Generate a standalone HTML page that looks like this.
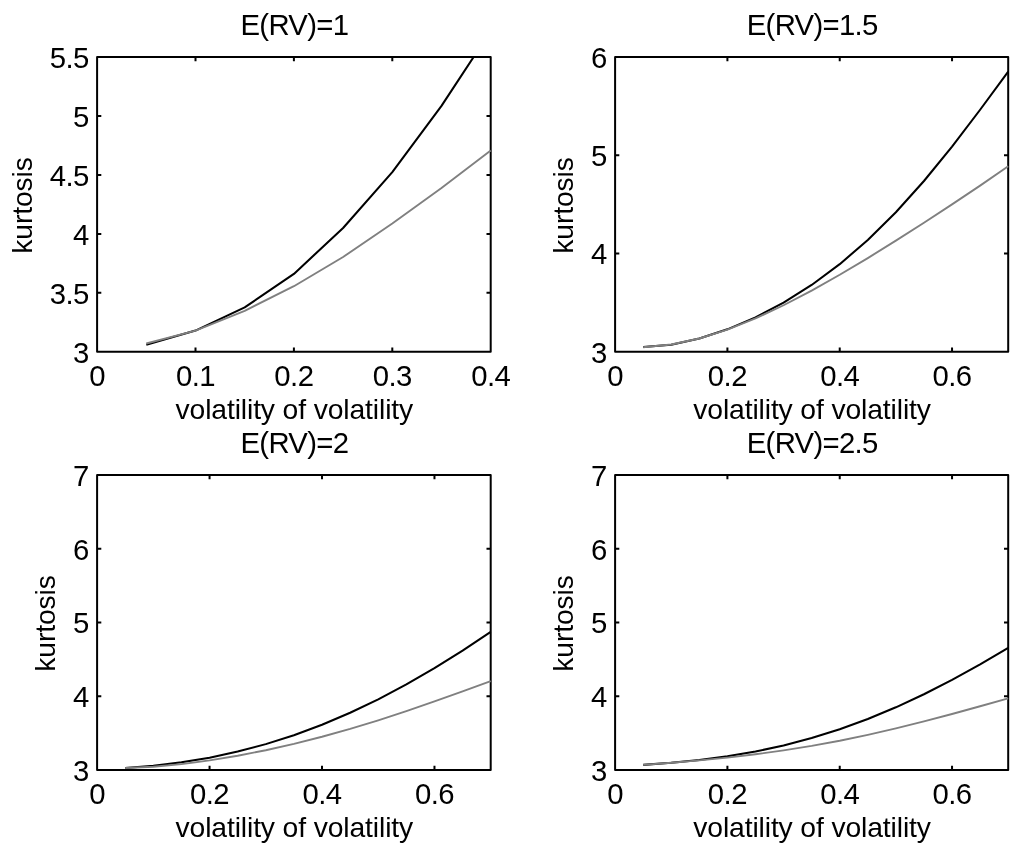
<!DOCTYPE html>
<html lang="en">
<head>
<meta charset="utf-8">
<title>Kurtosis vs volatility of volatility</title>
<style>
html,body{margin:0;padding:0;background:#fff;}
body{width:1024px;height:859px;overflow:hidden;}
svg{display:block;}
text{font-family:"Liberation Sans",Arial,Helvetica,sans-serif;font-size:28px;fill:#000;}
.t{font-size:29.3px;letter-spacing:-0.55px;}
.tt{font-size:29.3px;letter-spacing:-0.7px;}
.l{font-size:28.3px;letter-spacing:-0.13px;}
.ax{fill:none;stroke:#000;stroke-width:2.0;stroke-linejoin:round;}
.tk{stroke:#000;stroke-width:2.0;fill:none;}
.kb{fill:none;stroke:#000;stroke-width:2.05;stroke-linejoin:round;}
.kg{fill:none;stroke:#808080;stroke-width:1.9;stroke-linejoin:round;}
</style>
</head>
<body>
<svg width="1024" height="859" viewBox="0 0 1024 859">
<rect x="0" y="0" width="1024" height="859" fill="#ffffff"/>
<defs>
<clipPath id="clip0"><rect x="97.1" y="57.1" width="394.6" height="294.7"/></clipPath>
<clipPath id="clip1"><rect x="615.1" y="57.1" width="394.1" height="294.7"/></clipPath>
<clipPath id="clip2"><rect x="97.1" y="475.1" width="394.6" height="294.8"/></clipPath>
<clipPath id="clip3"><rect x="615.1" y="475.1" width="394.1" height="294.8"/></clipPath>
</defs>
<g id="plot1">
<rect class="ax" x="97.1" y="57.1" width="393.6" height="294.7"/>
<path class="tk" d="M195.5 351.8V347.6M195.5 57.1V61.3M293.9 351.8V347.6M293.9 57.1V61.3M392.3 351.8V347.6M392.3 57.1V61.3M97.1 292.86H101.3M490.7 292.86H486.5M97.1 233.92H101.3M490.7 233.92H486.5M97.1 174.98H101.3M490.7 174.98H486.5M97.1 116.04H101.3M490.7 116.04H486.5"/>
<polyline class="kb" clip-path="url(#clip0)" points="146.3,344.7 195.5,330.6 244.7,307.4 293.9,273.9 343.1,228 392.3,172.1 441.5,105.9 490.7,31"/>
<polyline class="kg" clip-path="url(#clip0)" points="146.3,343.5 195.5,330.6 244.7,310.8 293.9,286.2 343.1,257 392.3,223.5 441.5,188 490.7,150.5"/>
<text class="t" x="97.1" y="386" text-anchor="middle">0</text>
<text class="t" x="195.5" y="386" text-anchor="middle">0.1</text>
<text class="t" x="293.9" y="386" text-anchor="middle">0.2</text>
<text class="t" x="392.3" y="386" text-anchor="middle">0.3</text>
<text class="t" x="490.7" y="386" text-anchor="middle">0.4</text>
<text class="t" x="88.8" y="363" text-anchor="end">3</text>
<text class="t" x="88.8" y="304" text-anchor="end">3.5</text>
<text class="t" x="88.8" y="245" text-anchor="end">4</text>
<text class="t" x="88.8" y="186" text-anchor="end">4.5</text>
<text class="t" x="88.8" y="127" text-anchor="end">5</text>
<text class="t" x="88.8" y="68" text-anchor="end">5.5</text>
<text class="tt" x="294.4" y="35.1" text-anchor="middle">E(RV)=1</text>
<text class="l" x="294.3" y="418.9" text-anchor="middle">volatility of volatility</text>
<text class="l" transform="translate(32 205.45) rotate(-90)" text-anchor="middle">kurtosis</text>
</g>
<g id="plot2">
<rect class="ax" x="615.1" y="57.1" width="393.1" height="294.7"/>
<path class="tk" d="M727.41 351.8V347.6M727.41 57.1V61.3M839.73 351.8V347.6M839.73 57.1V61.3M952.04 351.8V347.6M952.04 57.1V61.3M615.1 253.57H619.3M1008.2 253.57H1004M615.1 155.33H619.3M1008.2 155.33H1004"/>
<polyline class="kb" clip-path="url(#clip1)" points="643.18,347.1 671.26,344.68 699.34,338.54 727.41,329.34 755.49,317.36 783.57,302.63 811.65,284.99 839.73,264.18 867.81,239.98 895.89,212.24 923.96,181 952.04,146.61 980.12,109.75 1008.2,71.61"/>
<polyline class="kg" clip-path="url(#clip1)" points="643.18,347.18 671.26,344.5 699.34,338.47 727.41,329.59 755.49,318.37 783.57,305.25 811.65,290.6 839.73,274.78 867.81,258.06 895.89,240.66 923.96,222.74 952.04,204.37 980.12,185.59 1008.2,166.34"/>
<text class="t" x="615.1" y="386" text-anchor="middle">0</text>
<text class="t" x="727.41" y="386" text-anchor="middle">0.2</text>
<text class="t" x="839.73" y="386" text-anchor="middle">0.4</text>
<text class="t" x="952.04" y="386" text-anchor="middle">0.6</text>
<text class="t" x="606.8" y="363" text-anchor="end">3</text>
<text class="t" x="606.8" y="264" text-anchor="end">4</text>
<text class="t" x="606.8" y="166" text-anchor="end">5</text>
<text class="t" x="606.8" y="68" text-anchor="end">6</text>
<text class="tt" x="812.15" y="35.1" text-anchor="middle">E(RV)=1.5</text>
<text class="l" x="812.05" y="418.9" text-anchor="middle">volatility of volatility</text>
<text class="l" transform="translate(573 205.45) rotate(-90)" text-anchor="middle">kurtosis</text>
</g>
<g id="plot3">
<rect class="ax" x="97.1" y="475.1" width="393.6" height="294.8"/>
<path class="tk" d="M209.56 769.9V765.7M209.56 475.1V479.3M322.01 769.9V765.7M322.01 475.1V479.3M434.47 769.9V765.7M434.47 475.1V479.3M97.1 696.2H101.3M490.7 696.2H486.5M97.1 622.5H101.3M490.7 622.5H486.5M97.1 548.8H101.3M490.7 548.8H486.5"/>
<polyline class="kb" clip-path="url(#clip2)" points="125.21,768.06 153.33,765.77 181.44,762.34 209.56,757.65 237.67,751.6 265.79,744.13 293.9,735.19 322.01,724.74 350.13,712.78 378.24,699.33 406.36,684.42 434.47,668.14 462.59,650.56 490.7,631.8"/>
<polyline class="kg" clip-path="url(#clip2)" points="125.21,767.96 153.33,766.71 181.44,764.12 209.56,760.42 237.67,755.75 265.79,750.22 293.9,743.87 322.01,736.75 350.13,728.89 378.24,720.31 406.36,711.11 434.47,701.39 462.59,691.33 490.7,681.19"/>
<text class="t" x="97.1" y="804.1" text-anchor="middle">0</text>
<text class="t" x="209.56" y="804.1" text-anchor="middle">0.2</text>
<text class="t" x="322.01" y="804.1" text-anchor="middle">0.4</text>
<text class="t" x="434.47" y="804.1" text-anchor="middle">0.6</text>
<text class="t" x="88.8" y="781" text-anchor="end">3</text>
<text class="t" x="88.8" y="707" text-anchor="end">4</text>
<text class="t" x="88.8" y="633" text-anchor="end">5</text>
<text class="t" x="88.8" y="560" text-anchor="end">6</text>
<text class="t" x="88.8" y="486" text-anchor="end">7</text>
<text class="tt" x="294.4" y="453.1" text-anchor="middle">E(RV)=2</text>
<text class="l" x="294.3" y="837" text-anchor="middle">volatility of volatility</text>
<text class="l" transform="translate(55 623.5) rotate(-90)" text-anchor="middle">kurtosis</text>
</g>
<g id="plot4">
<rect class="ax" x="615.1" y="475.1" width="393.1" height="294.8"/>
<path class="tk" d="M727.41 769.9V765.7M727.41 475.1V479.3M839.73 769.9V765.7M839.73 475.1V479.3M952.04 769.9V765.7M952.04 475.1V479.3M615.1 696.2H619.3M1008.2 696.2H1004M615.1 622.5H619.3M1008.2 622.5H1004M615.1 548.8H619.3M1008.2 548.8H1004"/>
<polyline class="kb" clip-path="url(#clip3)" points="643.18,764.87 671.26,762.84 699.34,760.07 727.41,756.35 755.49,751.52 783.57,745.46 811.65,738.05 839.73,729.23 867.81,718.99 895.89,707.32 923.96,694.27 952.04,679.91 980.12,664.36 1008.2,647.76"/>
<polyline class="kg" clip-path="url(#clip3)" points="643.18,764.87 671.26,762.78 699.34,760.39 727.41,757.59 755.49,754.28 783.57,750.4 811.65,745.89 839.73,740.72 867.81,734.89 895.89,728.44 923.96,721.43 952.04,713.97 980.12,706.23 1008.2,698.42"/>
<text class="t" x="615.1" y="804.1" text-anchor="middle">0</text>
<text class="t" x="727.41" y="804.1" text-anchor="middle">0.2</text>
<text class="t" x="839.73" y="804.1" text-anchor="middle">0.4</text>
<text class="t" x="952.04" y="804.1" text-anchor="middle">0.6</text>
<text class="t" x="606.8" y="781" text-anchor="end">3</text>
<text class="t" x="606.8" y="707" text-anchor="end">4</text>
<text class="t" x="606.8" y="633" text-anchor="end">5</text>
<text class="t" x="606.8" y="560" text-anchor="end">6</text>
<text class="t" x="606.8" y="486" text-anchor="end">7</text>
<text class="tt" x="812.15" y="453.1" text-anchor="middle">E(RV)=2.5</text>
<text class="l" x="812.05" y="837" text-anchor="middle">volatility of volatility</text>
<text class="l" transform="translate(573 623.5) rotate(-90)" text-anchor="middle">kurtosis</text>
</g>
</svg>
</body>
</html>
